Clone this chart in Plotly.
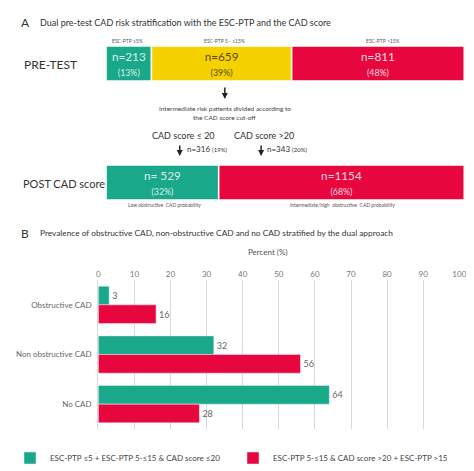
import plotly.graph_objects as go

# panel A
pre_n = [213, 659, 811]
pre_pct = [13, 39, 48]
pre_heads = ["ESC-PTP ≤5%", "ESC-PTP 5 - ≤15%", "ESC-PTP >15%"]
post_n = [529, 1154]
post_pct = [32, 68]
post_notes = ["Low obstructive  CAD probability", "Intermediate/high  obstructive  CAD probability"]
pre_cols = ["#1aa88a", "#f6d100", "#e8063f"]
post_cols = ["#1aa88a", "#e8063f"]

# panel B
cats = ["Obstructive CAD", "Non obstructive CAD", "No CAD"]
low_vals = [3, 32, 64]
high_vals = [16, 56, 28]
low_name = "ESC-PTP ≤5 + ESC-PTP 5-≤15 & CAD score ≤20"
high_name = "ESC-PTP 5-≤15 & CAD score >20 + ESC-PTP >15"

FONT = "Lato"
W, H = 474, 471
def px(x): return x / W
def py(y): return 1 - y / H

fig = go.Figure()

def strip(ns, pcts, cols, row, pad=""):
    base = 0
    for n, p, c in zip(ns, pcts, cols):
        fig.add_trace(go.Bar(x=[n], y=[row], base=[base], orientation="h", width=0.294, offset=-0.147,
                             marker=dict(color=c, line=dict(color="white", width=1.5)),
                             text=[f"n={pad if n == 529 else ''}{n}<br><span style='font-size:9px'>({p}%)</span>"],
                             textposition="inside", insidetextanchor="middle",
                             textfont=dict(color="#5a4a00" if c == "#f6d100" else "rgba(255,255,255,0.85)",
                                           size=12, family=FONT),
                             xaxis="x2", yaxis="y2", showlegend=False, hoverinfo="skip"))
        base += n

strip(pre_n, pre_pct, pre_cols, 1)
strip(post_n, post_pct, post_cols, 0, " ")

fig.add_trace(go.Bar(y=cats, x=low_vals, orientation="h", name=low_name, marker_color="#1aa88a",
                     text=low_vals, textposition="outside", textfont=dict(color="#666", size=9)))
fig.add_trace(go.Bar(y=cats, x=high_vals, orientation="h", name=high_name, marker_color="#e8063f",
                     text=high_vals, textposition="outside", textfont=dict(color="#666", size=9)))

ann = []
def t(x, y, s, size=9, color="#333", anchor="left"):
    ann.append(dict(x=px(x), y=py(y), xref="paper", yref="paper", text=s, showarrow=False,
                    xanchor=anchor, yanchor="middle", font=dict(size=size, color=color, family=FONT)))

t(9, 15, "A", 12)
t(29, 15, "Dual pre-test CAD risk stratification with the ESC-PTP and the CAD score", 9)
for s, x in zip(pre_heads, [120, 219, 380]):
    t(x, 33, s, 5, "#555", "center")
t(12, 57, "PRE-TEST", 12)
t(219, 101, "Intermediate risk patients divided according to", 6.5, "#444", "center")
t(219, 110, "the CAD score cut-off", 6.5, "#444", "center")
t(143, 128, "CAD score ≤ 20", 9, "#333")
t(226, 128, "CAD score >20", 9, "#333")
t(178, 141, "n=316 <span style='font-size:6px'>(19%)</span>", 8, "#333")
t(260, 141, "n=343 <span style='font-size:6px'>(20%)</span>", 8, "#333")
t(11, 176, "POST CAD score", 11)
t(157, 197, post_notes[0], 5, "#555", "center")
t(339, 197, post_notes[1], 5, "#555", "center")
t(9, 225, "B", 12)
t(29, 225, "Prevalence of obstructive CAD, non-obstructive CAD and no CAD stratified by the dual approach", 8.3)
t(263, 244, "Percent (%)", 8, "#555", "center")
for x, y0, y1 in [(219, 78, 91), (173, 136, 148), (256, 136, 148)]:
    ann.append(dict(x=px(x), y=py(y1), ax=0, ay=-(y1 - y0), xref="paper", yref="paper",
                    axref="pixel", ayref="pixel", text="", showarrow=True, arrowhead=2,
                    arrowsize=0.8, arrowwidth=1.5, arrowcolor="#222"))

fig.update_layout(
    width=W, height=H, margin=dict(l=0, r=0, t=0, b=0),
    paper_bgcolor="white", plot_bgcolor="white",
    font=dict(family=FONT, color="#666", size=8),
    barmode="group", bargap=0.25, bargroupgap=0,
    annotations=ann,
    xaxis=dict(domain=[px(90), px(458)], range=[0, 100], dtick=10, side="top",
               showgrid=True, gridcolor="#d9d9d9", zeroline=False, tickfont=dict(size=8, color="#777"),
               ticks="", showline=False),
    yaxis=dict(domain=[py(421), py(272)], autorange="reversed", tickfont=dict(size=8, color="#666"),
               showline=True, linecolor="#d9d9d9", ticks="", ticksuffix="  "),
    xaxis2=dict(domain=[px(98), px(463)], range=[0, 1683], visible=False, anchor="y2"),
    yaxis2=dict(domain=[py(192), py(38)], range=[-0.147, 1.147], visible=False, anchor="x2"),
    legend=dict(orientation="h", x=0.0, y=py(450), yanchor="middle", xanchor="left",
                font=dict(size=8, color="#444"), itemwidth=30, traceorder="normal",
                entrywidth=178, entrywidthmode="pixels"),
)

fig.write_html("out.html")
